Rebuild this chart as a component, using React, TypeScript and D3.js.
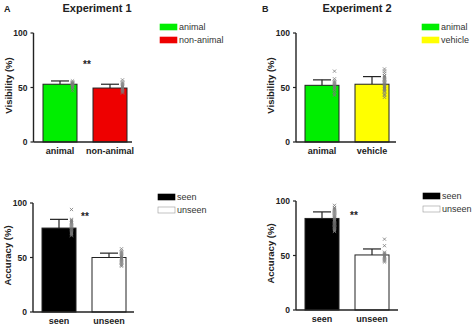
import React from "react";
import * as d3 from "d3";

// ---- Data ----
const exp1VisCategories = ["animal", "non-animal"];
const exp1VisMeans = [53, 49.5];
const exp1VisErr = [3, 3.5];
const exp1VisSubjects = [
  [56, 55, 54, 54, 53, 53, 52, 52, 51, 50, 49, 47],
  [57, 55, 54, 53, 52, 51, 50, 49, 48, 47, 46, 45],
];
const exp1VisColors = ["#00ee00", "#ee0000"];

const exp2VisCategories = ["animal", "vehicle"];
const exp2VisMeans = [52, 53];
const exp2VisErr = [5, 7];
const exp2VisSubjects = [
  [65, 58, 56, 55, 54, 53, 52, 51, 50, 49, 48, 46, 44, 43],
  [67, 65, 63, 61, 60, 59, 58, 57, 56, 55, 54, 53, 52, 51, 50, 49, 48, 47, 46, 44, 43, 41],
];
const exp2VisColors = ["#00ee00", "#ffff00"];

const exp1AccCategories = ["seen", "unseen"];
const exp1AccMeans = [77, 50];
const exp1AccErr = [8, 4];
const exp1AccSubjects = [
  [94, 85, 84, 83, 82, 81, 80, 79, 78, 77, 76, 75, 74, 73, 72, 71, 70],
  [58, 56, 55, 54, 53, 52, 51, 50, 49, 48, 47, 46, 45, 44, 43, 42],
];
const exp1AccColors = ["#000000", "#ffffff"];

const exp2AccCategories = ["seen", "unseen"];
const exp2AccMeans = [84, 50.5];
const exp2AccErr = [6, 5.5];
const exp2AccSubjects = [
  [96, 94, 93, 92, 91, 90, 89, 88, 87, 86, 85, 84, 83, 82, 81, 80, 79, 78, 77, 76, 75, 74, 73, 72],
  [65, 59, 53, 52, 51, 50, 49, 48, 47, 46, 45, 44],
];
const exp2AccColors = ["#000000", "#ffffff"];

const yTicks = [0, 50, 100];

const FONT = "'Liberation Sans', Arial, sans-serif";

type PanelProps = {
  axisX: number;
  yTop: number;
  yBottom: number;
  xRange: [number, number];
  baseEnd: number;
  categories: string[];
  means: number[];
  errs: number[];
  subjects: number[][];
  colors: string[];
  yLabel: string;
  stars?: [number, number];
  legendX: number;
  legendY: number;
};

function Panel(p: PanelProps) {
  const y = d3.scaleLinear().domain([0, 100]).range([p.yBottom, p.yTop]);
  const x = d3
    .scaleBand<string>()
    .domain(p.categories)
    .range(p.xRange)
    .paddingInner(0.32)
    .paddingOuter(0.16);
  const bw = x.bandwidth();
  const mid = (p.yTop + p.yBottom) / 2;
  return (
    <g>
      {p.categories.map((c, i) => (
        <g key={c}>
          <line
            x1={x(c)! + bw / 2}
            x2={x(c)! + bw / 2}
            y1={y(p.means[i])}
            y2={y(p.means[i] + p.errs[i])}
            stroke="#222"
            strokeWidth={1.2}
          />
          <line
            x1={x(c)! + bw / 2 - 9}
            x2={x(c)! + bw / 2 + 9}
            y1={y(p.means[i] + p.errs[i])}
            y2={y(p.means[i] + p.errs[i])}
            stroke="#222"
            strokeWidth={1.2}
          />
          <rect
            x={x(c)!}
            y={y(p.means[i])}
            width={bw}
            height={y(0) - y(p.means[i])}
            fill={p.colors[i]}
            stroke="#222"
            strokeWidth={1}
          />
          {p.subjects[i].map((v, j) => {
            const cx = x(c)! + bw - 4.5;
            const cy = y(v);
            const s = 1.6;
            return (
              <path
                key={j}
                d={`M${cx - s},${cy - s}L${cx + s},${cy + s}M${cx - s},${cy + s}L${cx + s},${cy - s}`}
                stroke="#7a7a7a"
                strokeWidth={0.8}
                fill="none"
              />
            );
          })}
          <text
            x={x(c)! + bw / 2}
            y={p.yBottom + 12}
            textAnchor="middle"
            fontFamily={FONT}
            fontWeight="bold"
            fontSize={9}
            fill="#222"
          >
            {c}
          </text>
        </g>
      ))}
      <line x1={p.axisX} x2={p.axisX} y1={p.yTop} y2={p.yBottom} stroke="#222" strokeWidth={1.4} />
      <line x1={p.axisX} x2={p.baseEnd} y1={p.yBottom} y2={p.yBottom} stroke="#222" strokeWidth={1.4} />
      {yTicks.map((t) => (
        <g key={t}>
          <line x1={p.axisX - 3} x2={p.axisX} y1={y(t)} y2={y(t)} stroke="#222" strokeWidth={1.2} />
          <text
            x={p.axisX - 6}
            y={y(t) + 3}
            textAnchor="end"
            fontFamily={FONT}
            fontWeight="bold"
            fontSize={8.5}
            fill="#222"
          >
            {t}
          </text>
        </g>
      ))}
      <text
        transform={`translate(${p.axisX - 22},${mid - 2}) rotate(-90)`}
        textAnchor="middle"
        fontFamily={FONT}
        fontWeight="bold"
        fontSize={9.5}
        fill="#222"
      >
        {p.yLabel}
      </text>
      {p.stars && (
        <text
          x={p.stars[0]}
          y={p.stars[1]}
          textAnchor="middle"
          fontFamily={FONT}
          fontWeight="bold"
          fontSize={10}
          fill="#222"
        >
          **
        </text>
      )}
      {p.categories.map((c, i) => (
        <g key={"lg" + c}>
          <rect
            x={p.legendX}
            y={p.legendY + i * 13}
            width={17}
            height={6}
            fill={p.colors[i]}
            stroke={p.colors[i] === "#ffffff" ? "#999" : p.colors[i]}
            strokeWidth={0.6}
          />
          <text
            x={p.legendX + 19}
            y={p.legendY + i * 13 + 6}
            fontFamily={FONT}
            fontSize={9}
            fill="#333"
          >
            {c}
          </text>
        </g>
      ))}
    </g>
  );
}

export default function App() {
  return (
    <svg
      width={474}
      height={327}
      style={{ position: "absolute", left: 0, top: 0, background: "#fff" }}
    >
      <rect width={474} height={327} fill="#fff" />
      <text x={4} y={12} fontFamily={FONT} fontWeight="bold" fontSize={9} fill="#222">A</text>
      <text x={262} y={12} fontFamily={FONT} fontWeight="bold" fontSize={9} fill="#222">B</text>
      <text x={97} y={12} textAnchor="middle" fontFamily={FONT} fontWeight="bold" fontSize={11} fill="#222">
        Experiment 1
      </text>
      <text x={357} y={12} textAnchor="middle" fontFamily={FONT} fontWeight="bold" fontSize={11} fill="#222">
        Experiment 2
      </text>
      <Panel
        axisX={33.5}
        yTop={33}
        yBottom={142}
        xRange={[35, 135]}
        baseEnd={132}
        categories={exp1VisCategories}
        means={exp1VisMeans}
        errs={exp1VisErr}
        subjects={exp1VisSubjects}
        colors={exp1VisColors}
        yLabel="Visibility (%)"
        stars={[87, 68]}
        legendX={160}
        legendY={24}
      />
      <Panel
        axisX={296}
        yTop={33}
        yBottom={142}
        xRange={[297, 397]}
        baseEnd={396}
        categories={exp2VisCategories}
        means={exp2VisMeans}
        errs={exp2VisErr}
        subjects={exp2VisSubjects}
        colors={exp2VisColors}
        yLabel="Visibility (%)"
        legendX={422}
        legendY={24}
      />
      <Panel
        axisX={33}
        yTop={203}
        yBottom={312}
        xRange={[34, 134]}
        baseEnd={134}
        categories={exp1AccCategories}
        means={exp1AccMeans}
        errs={exp1AccErr}
        subjects={exp1AccSubjects}
        colors={exp1AccColors}
        yLabel="Accuracy (%)"
        stars={[85, 220]}
        legendX={158}
        legendY={194}
      />
      <Panel
        axisX={296}
        yTop={201}
        yBottom={310}
        xRange={[297, 397]}
        baseEnd={398}
        categories={exp2AccCategories}
        means={exp2AccMeans}
        errs={exp2AccErr}
        subjects={exp2AccSubjects}
        colors={exp2AccColors}
        yLabel="Accuracy (%)"
        stars={[354, 219]}
        legendX={423}
        legendY={193}
      />
    </svg>
  );
}
